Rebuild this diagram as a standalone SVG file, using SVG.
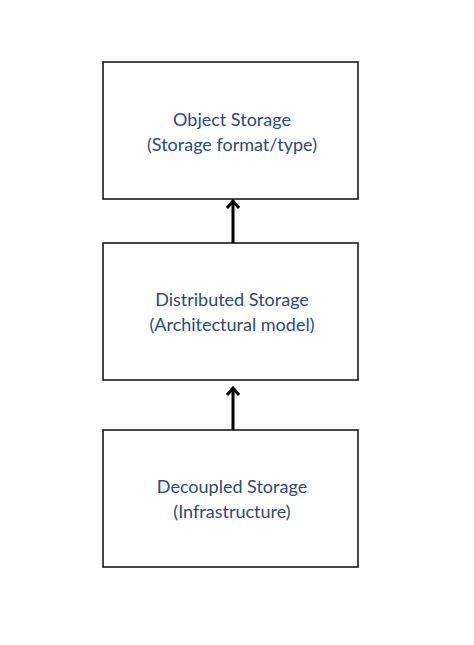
<svg xmlns="http://www.w3.org/2000/svg" width="474" height="645" viewBox="0 0 474 645">
<style>
.box{fill:#fff;stroke:#1a1a1a;stroke-width:1.6}
.t{font-family:Lato,"Liberation Sans",sans-serif;font-size:18px;fill:#2a4a7c;text-anchor:middle}
.c{stroke:#000;stroke-width:3;fill:none}
</style>
<rect width="474" height="645" fill="#fff"/>
<g id="object">
<rect class="box" x="103" y="62" width="255" height="137"/>
<text class="t" x="232" y="126">Object Storage</text>
<text class="t" x="232" y="151">(Storage format/type)</text>
</g>
<g id="distributed">
<rect class="box" x="103" y="243" width="255" height="137"/>
<text class="t" x="232" y="306">Distributed Storage</text>
<text class="t" x="232" y="331">(Architectural model)</text>
</g>
<g id="decoupled">
<rect class="box" x="103" y="430" width="255" height="137"/>
<text class="t" x="232" y="493">Decoupled Storage</text>
<text class="t" x="232" y="518">(Infrastructure)</text>
</g>
<g id="connectors">
<path class="c" d="M233 243 V202 M227 208 L233 201 L239 208"/>
<path class="c" d="M233 430 V389 M227 395 L233 388 L239 395"/>
</g>
</svg>
